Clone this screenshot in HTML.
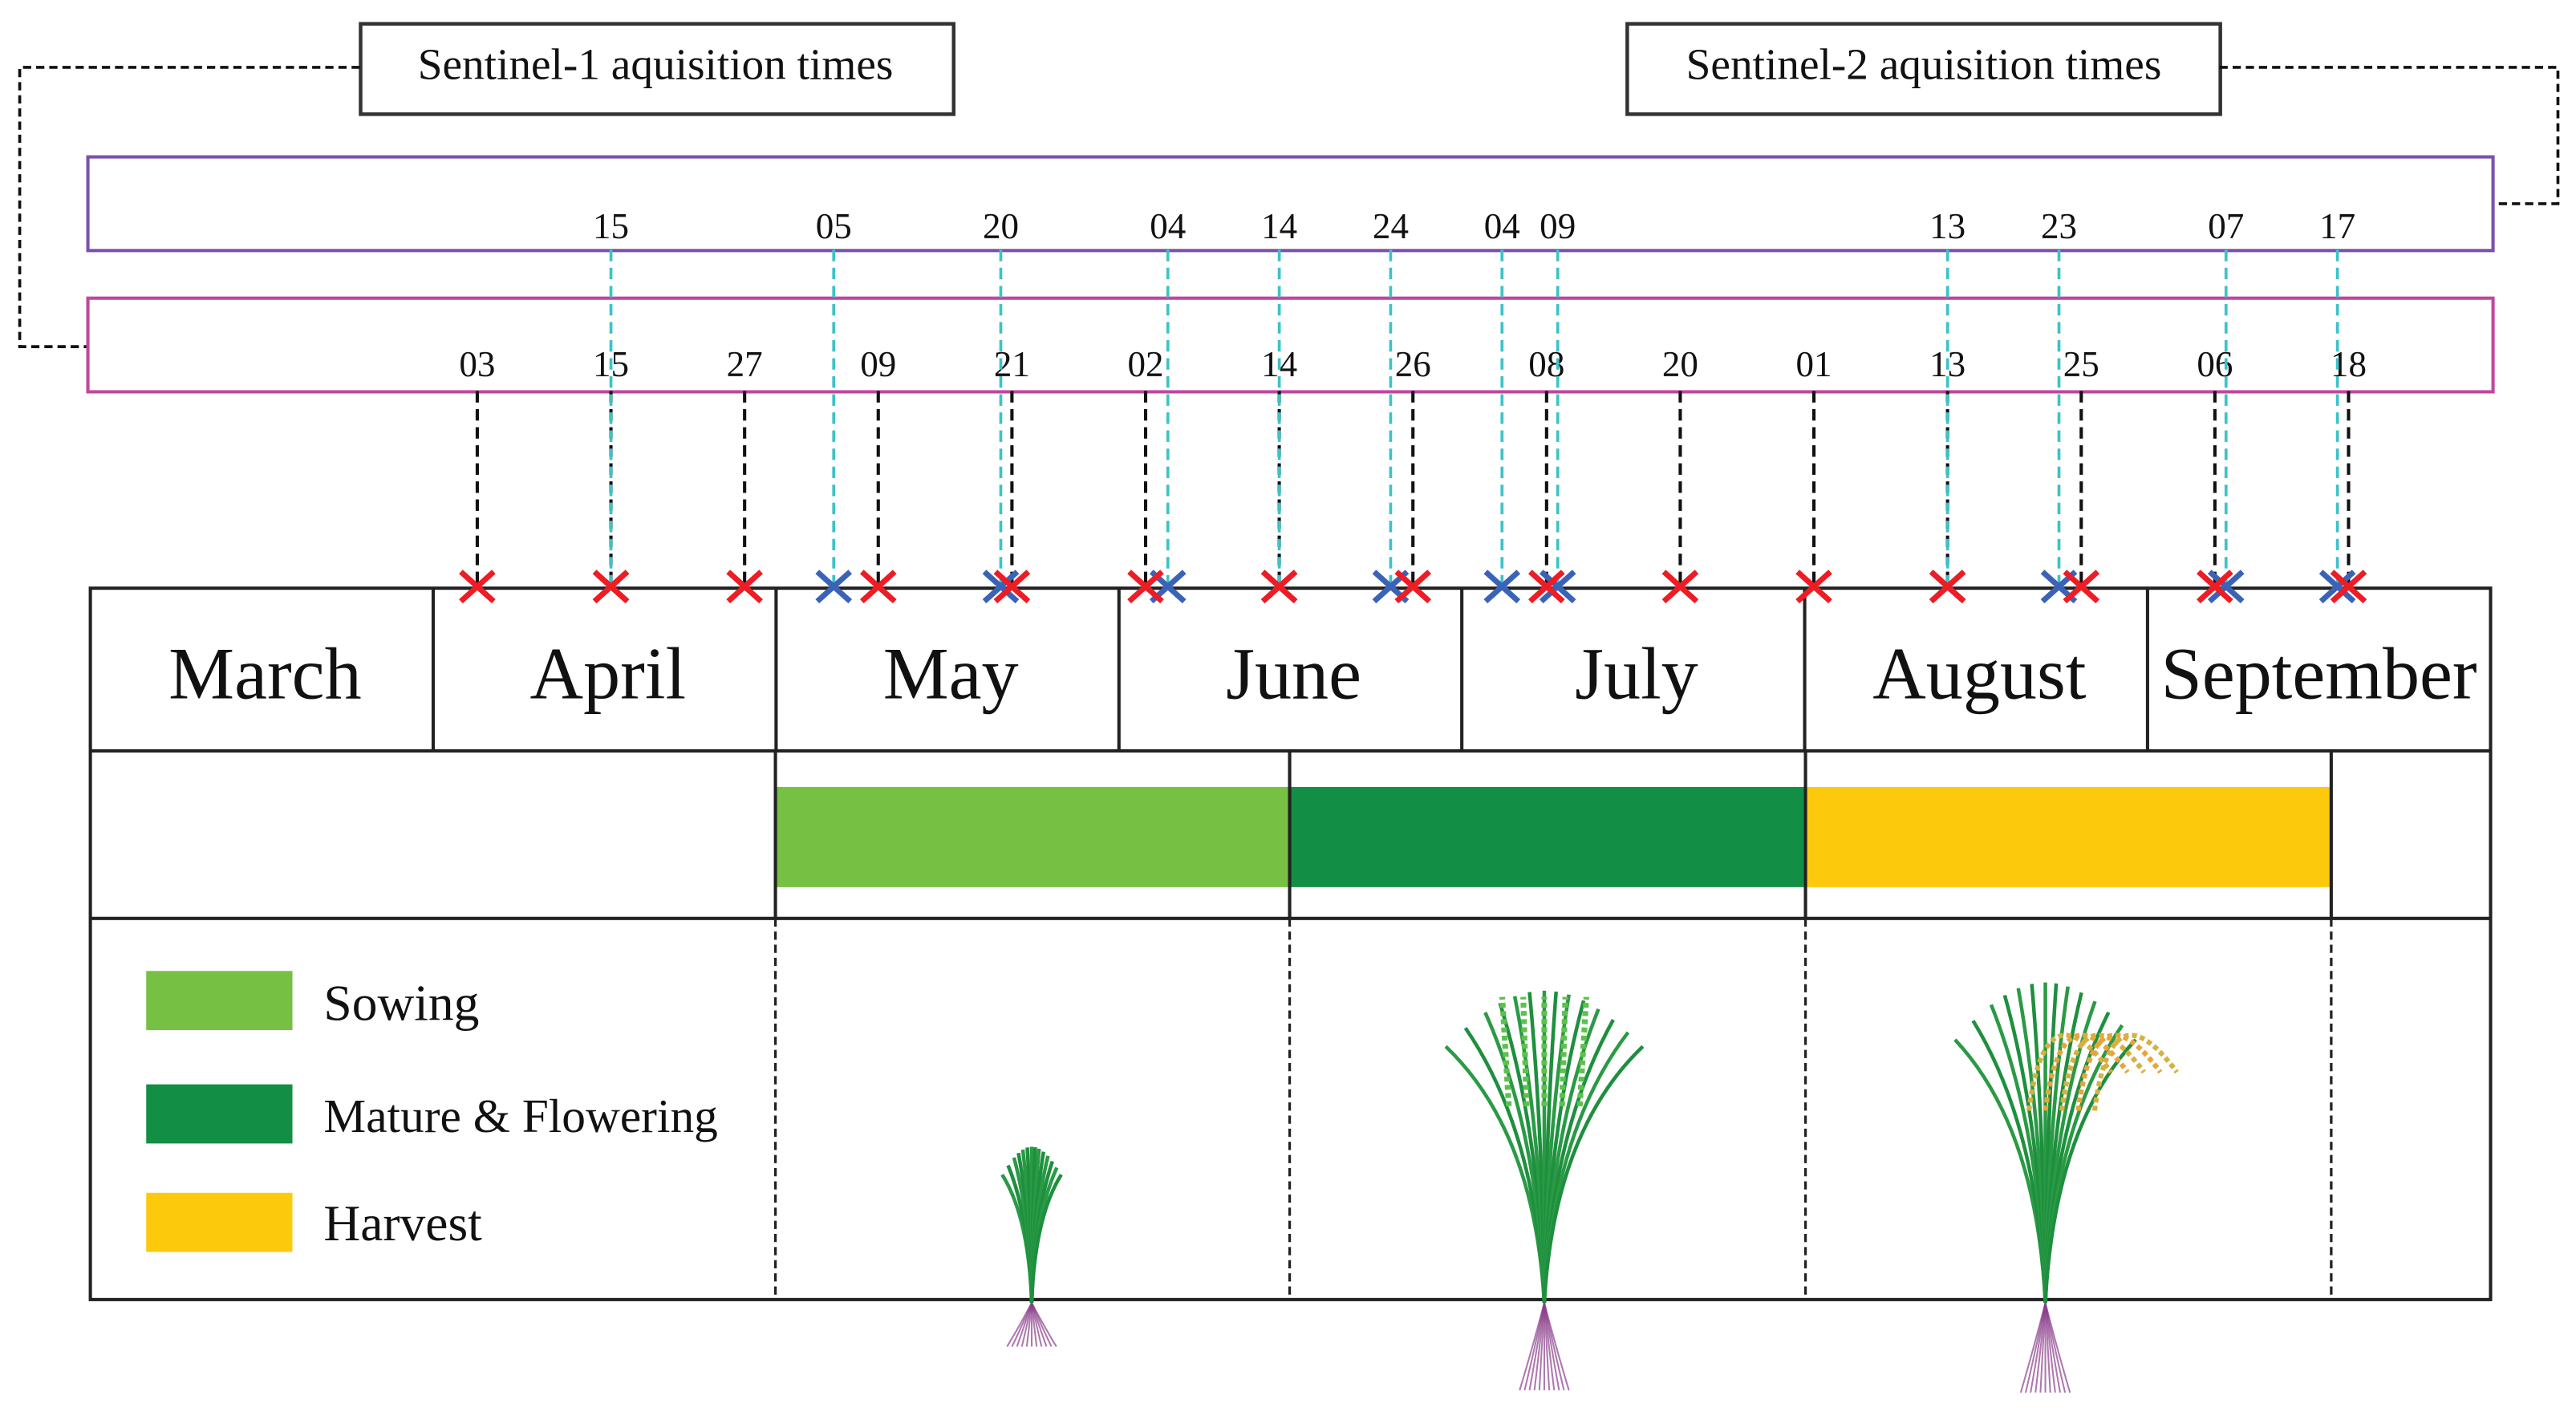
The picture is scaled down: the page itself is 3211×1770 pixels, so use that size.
<!DOCTYPE html>
<html><head><meta charset="utf-8">
<style>
html,body{margin:0;padding:0;background:#fff;}
svg{display:block;}
text{font-family:"Liberation Serif",serif;fill:#111;}
</style></head>
<body>
<svg id="chart" width="3211" height="1770" viewBox="0 0 1568 864.3" preserveAspectRatio="none" xmlns="http://www.w3.org/2000/svg">
<g id="static">
  <rect x="219.5" y="14.5" width="361" height="55" fill="#fff" stroke="#333" stroke-width="2.2"/>
  <text x="399" y="48" font-size="27" text-anchor="middle">Sentinel-1 aquisition times</text>
  <rect x="990.5" y="14.5" width="361" height="55" fill="#fff" stroke="#333" stroke-width="2.2"/>
  <text x="1171" y="48" font-size="27" text-anchor="middle">Sentinel-2 aquisition times</text>
  <path d="M219 41 H12 V211 H53" fill="none" stroke="#111" stroke-width="1.8" stroke-dasharray="5,3"/>
  <path d="M1351 41 H1557 V124 H1518" fill="none" stroke="#111" stroke-width="1.8" stroke-dasharray="5,3"/>
  <rect x="53.5" y="95.5" width="1464" height="57" fill="none" stroke="#7a52ad" stroke-width="2"/>
  <rect x="53.5" y="181.5" width="1464" height="57" fill="none" stroke="#c0479f" stroke-width="2"/>
</g>
<g id="lines"></g>
<g id="table">
  <rect x="55" y="358" width="1461" height="433" fill="none" stroke="#222" stroke-width="2"/>
  <line x1="55" y1="457" x2="1516" y2="457" stroke="#222" stroke-width="2"/>
  <line x1="55" y1="559" x2="1516" y2="559" stroke="#222" stroke-width="2"/>
</g>
<g id="months"></g>
<g id="bars"></g>
<g id="legend">
  <rect x="89" y="591" width="89" height="36" fill="#76c043"/>
  <text x="197" y="621" font-size="31">Sowing</text>
  <rect x="89" y="660" width="89" height="36" fill="#128f45"/>
  <text x="197" y="689" font-size="29">Mature &amp; Flowering</text>
  <rect x="89" y="726" width="89" height="36" fill="#fdc90c"/>
  <text x="197" y="755" font-size="31">Harvest</text>
</g>
<g id="plants"></g>
<g id="marks"></g>
</svg>
<script>
// ---- data ----
const months = ["March","April","May","June","July","August","September"];
const monthDays = [31,30,31,30,31,31,30];
const s1Months = [1,1,1,2,2,3,3,3,4,4,5,5,5,6,6];
const s1Days   = [3,15,27,9,21,2,14,26,8,20,1,13,25,6,18];
const s2Months = [1,2,2,3,3,3,4,4,5,5,6,6];
const s2Days   = [15,5,20,4,14,24,4,9,13,23,7,17];
const stageNames = ["Sowing","Mature & Flowering","Harvest"];
const stageStartM = [2,3,5]; const stageStartD = [1,16,1];
const stageEndM   = [3,5,6]; const stageEndD   = [16,1,17];
const stageColors = ["#76c043","#128f45","#fdc90c"];

const NS="http://www.w3.org/2000/svg";
function mk(tag,attrs,parent){const e=document.createElementNS(NS,tag);for(const k in attrs)e.setAttribute(k,attrs[k]);parent.appendChild(e);return e;}
function doy(m,d){let s=0;for(let i=0;i<m;i++)s+=monthDays[i];return s+d;}
function xDate(m,d){return 60+doy(m,d)*6.78;}
const MW=208.7, X0=55;
function xMonth(i){return X0+i*MW;}

const gMonths=document.getElementById('months');
months.forEach((name,i)=>{
  if(i>0){const l=mk('line',{x1:xMonth(i),y1:358,x2:xMonth(i),y2:457,stroke:'#222','stroke-width':2},gMonths);
    
    }
  const t=mk('text',{x:xMonth(i)+MW/2+(i==6?0:2),y:425,'font-size':45,'text-anchor':'middle'},gMonths);
  t.textContent=name;
  
  
});

const gBars=document.getElementById('bars');
const stageX=[];
stageNames.forEach((n,i)=>{
  const x1=xMonth(stageStartM[i])+(stageStartD[i]-1)/monthDays[stageStartM[i]]*MW;
  const x2=xMonth(stageEndM[i])+(stageEndD[i]-1)/monthDays[stageEndM[i]]*MW;
  stageX.push(x1,x2);
  const r=mk('rect',{x:x1,y:479,width:x2-x1,height:61,fill:stageColors[i]},gBars);
  
  
});
const bounds=[...new Set(stageX.map(v=>Math.round(v)))];
bounds.forEach(x=>{
  const a=mk('line',{x1:x,y1:457,x2:x,y2:559,stroke:'#222','stroke-width':2},gBars);
  
  
  const b=mk('line',{x1:x,y1:559,x2:x,y2:791,stroke:'#222','stroke-width':1.6,'stroke-dasharray':'5,3'},gBars);
  
  
});

const gLines=document.getElementById('lines'), gMarks=document.getElementById('marks');
function cross(x,y,col,name){
  const p=mk('path',{d:`M${x-10} ${y-9} L${x+10} ${y+9} M${x+10} ${y-9} L${x-10} ${y+9}`,stroke:col,'stroke-width':3.4,fill:'none'},gMarks);
  
  
}
s1Months.forEach((m,i)=>{
  const x=xDate(m,s1Days[i]);
  const l=mk('line',{x1:x,y1:238,x2:x,y2:357,stroke:'#111','stroke-width':2,'stroke-dasharray':'7,4'},gLines);
  
  
  const t=mk('text',{x:x,y:229,'font-size':22,'text-anchor':'middle'},gLines);
  t.textContent=String(s1Days[i]).padStart(2,'0');
  
  
});
s2Months.forEach((m,i)=>{
  const x=xDate(m,s2Days[i]);
  const l=mk('line',{x1:x,y1:152,x2:x,y2:357,stroke:'#3cc3c8','stroke-width':1.8,'stroke-dasharray':'7,4'},gLines);
  
  
  const t=mk('text',{x:x,y:145,'font-size':22,'text-anchor':'middle'},gLines);
  t.textContent=String(s2Days[i]).padStart(2,'0');
  
  
  cross(x,357,'#3a63b8','sentinel-2-marker');
});
s1Months.forEach((m,i)=>{ cross(xDate(m,s1Days[i]),357,'#ee1c24','sentinel-1-marker'); });

// ---- plants (illustrations) ----
const gPlants=document.getElementById('plants');
function plant(cx,base,h,spread,withPanicle,gold,name){
  const g=mk('g',{},gPlants);
  
  
  for(let i=-5;i<=5;i++){
    mk('path',{d:`M${cx} ${base} q${i*1.5} ${h*0.15} ${i*3} ${h*0.28}`,stroke:'#8a3e8c','stroke-width':1,fill:'none',opacity:0.7},g);
  }
  const leaves=[-1,-0.8,-0.6,-0.45,-0.3,-0.15,0,0.12,0.25,0.4,0.55,0.7,0.85,1];
  leaves.forEach((f,k)=>{
    const top=base-h*(0.72+0.28*Math.cos(f*1.2));
    const tx=cx+f*spread;
    mk('path',{d:`M${cx} ${base} Q${cx+f*spread*0.1} ${base-h*0.55} ${tx} ${top}`,stroke:k%2?'#1e8f3e':'#2a9a45','stroke-width':2.2,fill:'none'},g);
  });
  if(withPanicle){
    [-0.4,-0.2,0,0.2,0.4].forEach(f=>{
      const tx=cx+f*spread*0.9, ty=base-h*0.98;
      mk('path',{d:`M${tx} ${ty+h*0.35} L${tx+f*10} ${ty}`,stroke:'#5cc34a','stroke-width':3.5,'stroke-dasharray':'3,2',fill:'none'},g);
    });
  }
  if(gold){
    [0,10,20,30,40].forEach((o,k)=>{
      mk('path',{d:`M${cx+o-10} ${base-h*0.6} Q${cx+o} ${base-h*1.0} ${cx+o+40} ${base-h*0.72}`,stroke:k%2?'#e8a43a':'#d7b040','stroke-width':3,'stroke-dasharray':'3,2',fill:'none'},g);
    });
  }
}
plant(628,793,95,18,false,false,'seedling-illustration');
plant(940,793,190,60,true,false,'flowering-rice-illustration');
plant(1245,793,195,55,false,true,'harvest-rice-illustration');
</script>
</body></html>
